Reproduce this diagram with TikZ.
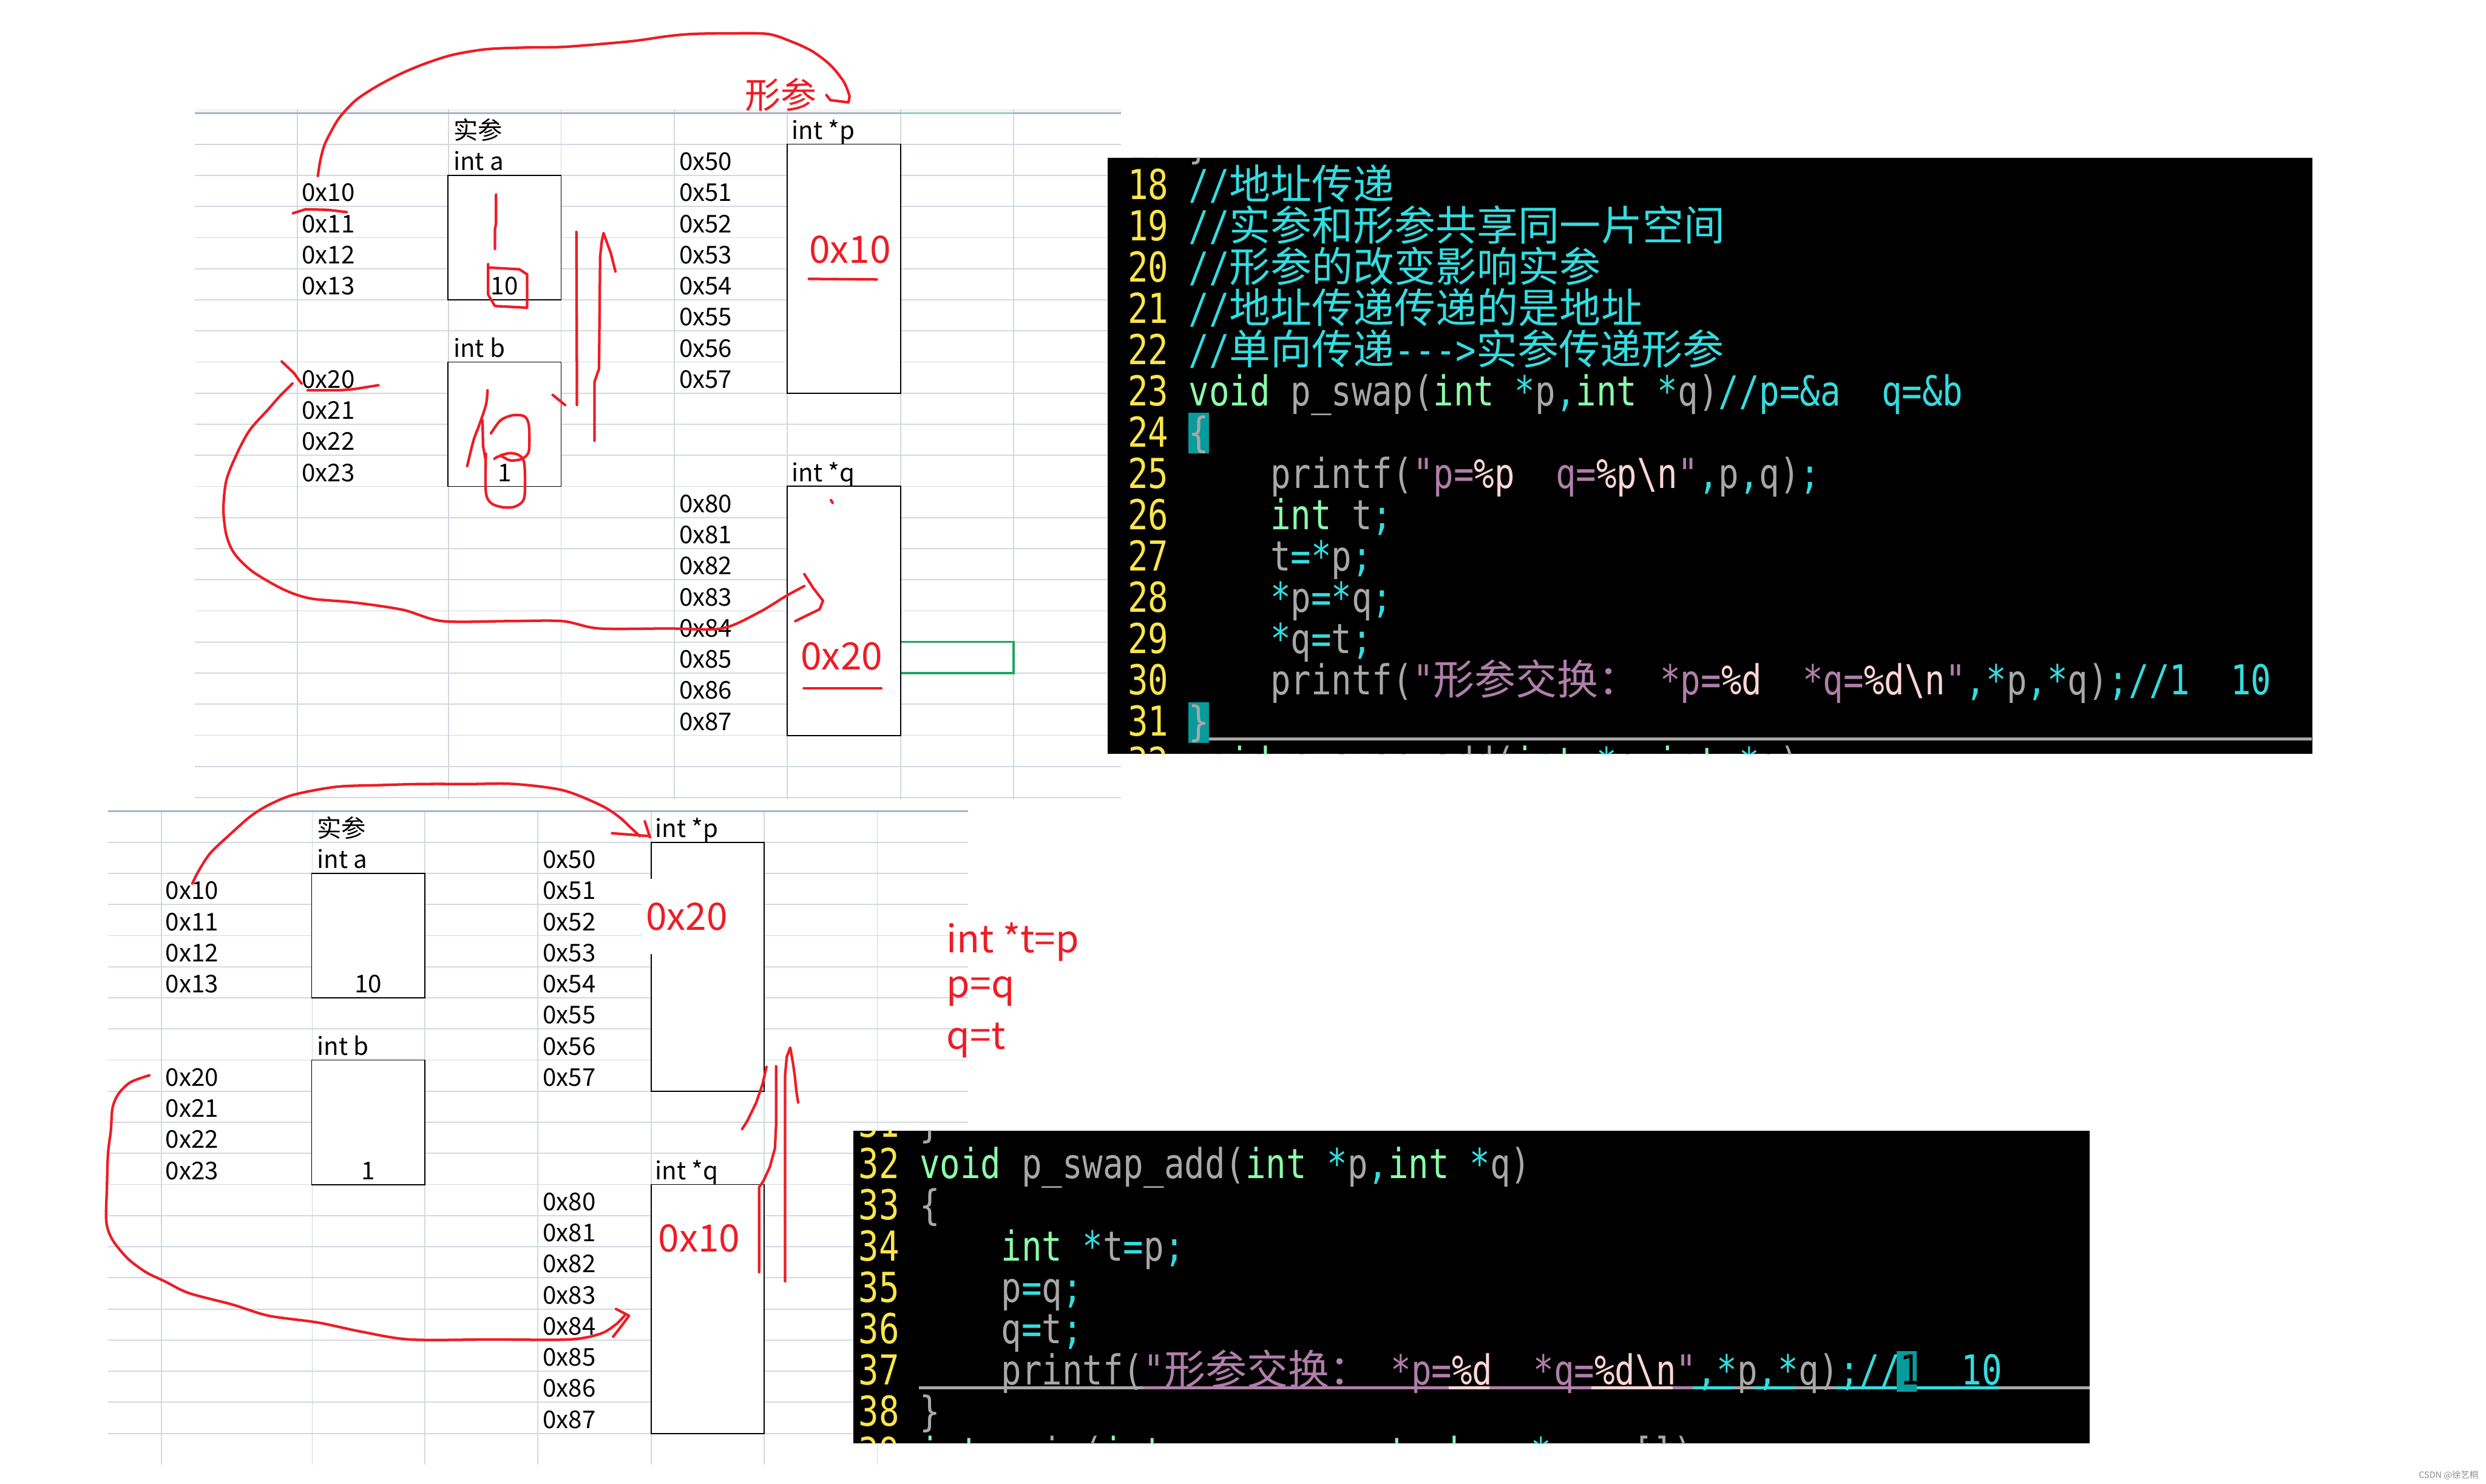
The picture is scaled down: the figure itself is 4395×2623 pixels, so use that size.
\documentclass[tikz,border=0pt]{standalone}
\usepackage{fontspec}
\setmainfont{Noto Sans CJK SC}
\newfontfamily\codefont[FakeStretch=0.82]{DejaVu Sans Mono}
\newfontfamily\codecjk{Noto Sans CJK SC}
\usepackage{tikz}
\usetikzlibrary{positioning}
\definecolor{penred}{HTML}{EE1C25}
\definecolor{gridgray}{HTML}{D3D8E0}
\definecolor{headgray}{HTML}{A9B3C6}
\definecolor{sheetband}{HTML}{F2F4F6}
\definecolor{cellgreen}{HTML}{21A366}
\definecolor{selteal}{HTML}{9CCFC0}
\definecolor{codeln}{HTML}{FAE54B}
\definecolor{codecm}{HTML}{33DDE0}
\definecolor{codekw}{HTML}{8CFFAA}
\definecolor{codetx}{HTML}{A8A8A8}
\definecolor{codest}{HTML}{B07FAA}
\definecolor{codefm}{HTML}{FFD6D6}
\definecolor{codeop}{HTML}{33DDE0}
\definecolor{cursorbg}{HTML}{089B9B}
\newcommand\sheetfont{\fontsize{12.3}{14}\selectfont}
\newcommand\codesize{\fontsize{20.75}{24}\selectfont}
\newcommand\cln[1]{\textcolor{codeln}{#1}}
\newcommand\ccm[1]{\textcolor{codecm}{#1}}
\newcommand\ckw[1]{\textcolor{codekw}{#1}}
\newcommand\ctx[1]{\textcolor{codetx}{#1}}
\newcommand\cst[1]{\textcolor{codest}{#1}}
\newcommand\cfm[1]{\textcolor{codefm}{#1}}
\newcommand\cop[1]{\textcolor{codeop}{#1}}
\newcommand\czh[1]{{\codecjk #1}}
\tikzset{
  gridline/.style={draw=gridgray, line width=0.55pt},
  headline/.style={draw=headgray, line width=0.75pt},
  membox/.style={rectangle, draw=black, fill=white, line width=0.55pt, minimum width=2cm, inner sep=0pt},
  cell/.style={anchor=base west, inner sep=0pt, font=\sheetfont},
  cellval/.style={anchor=base, inner sep=0pt, font=\sheetfont},
  redpen/.style={draw=penred, line width=1.3pt, line cap=round, line join=round},
  pentext/.style={text=penred, inner sep=0pt, font=\fontsize{19}{22}\selectfont},
  codepanel/.style={rectangle, fill=black, draw=none, inner sep=0pt},
  codeline/.style={anchor=base west, inner sep=0pt, font=\codesize\codefont},
}
% one memory sheet: addresses, names and the four cells
\newcommand\memlayout[1]{%
  \foreach \rw/\ad in {2/10,3/11,4/12,5/13,8/20,9/21,10/22,11/23}
    \node[cell] (#1addr\ad) at (533,{246+55*\rw}) {0x\ad};
  \foreach \rw/\ad in {1/50,2/51,3/52,4/53,5/54,6/55,7/56,8/57,12/80,13/81,14/82,15/83,16/84,17/85,18/86,19/87}
    \node[cell] (#1addr\ad) at (1200,{246+55*\rw}) {0x\ad};
  \node[cell] (#1head) at (801,246) {实参};
  \node[cell] (#1inta) at (801,301) {int a};
  \node[cell] (#1intb) at (801,631) {int b};
  \node[cell] (#1intp) at (1399,246) {int *p};
  \node[cell] (#1intq) at (1399,851) {int *q};
  \node[membox, minimum height=2.2cm] (#1boxa) at (892,420) {};
  \node[membox, minimum height=2.2cm] (#1boxb) at (892,750) {};
  \node[membox, minimum height=4.4cm] (#1boxp) at (1492,475) {};
  \node[membox, minimum height=4.4cm] (#1boxq) at (1492,1080) {};
  \node[cellval] (#1vala) at (892,521) {10};
  \node[cellval] (#1valb) at (892,851) {1};
}

\begin{document}
\begin{tikzpicture}[x=0.01cm, y=-0.01cm]
  \useasboundingbox (0,0) rectangle (4395,2623);
  \fill[white] (0,0) rectangle (4395,2623);

  % upper sheet
  \fill[sheetband] (344,193) rectangle (1982,200);
  \foreach \k in {1,...,22} \draw[gridline] (344,{200+55*\k}) -- (1982,{200+55*\k});
  \foreach \c in {526,793,992,1192,1392,1592,1792} \draw[gridline] (\c,193) -- (\c,1413);
  \draw[headline] (344,200) -- (1982,200);
  \draw[selteal, line width=1pt] (1592,200) -- (1792,200);
  \draw[cellgreen, line width=1pt] (1592,1135) rectangle (1792,1190);
  \memlayout{t}

  % lower sheet
  \begin{scope}[shift={(-241,1234)}]
    \foreach \k in {1,...,20} \draw[gridline] (432,{200+55*\k}) -- (1952,{200+55*\k});
    \foreach \c in {526,793,992,1192,1392,1592,1792} \draw[gridline] (\c,200) -- (\c,1355);
    \draw[headline] (432,200) -- (1952,200);
    \memlayout{b}
  \end{scope}

  % pen notes, upper sheet
  \node[pentext, font=\fontsize{18}{20}\selectfont] (tform) at (1380,168) {形参};
  \node[pentext] (tpval) at (1503,441) {0x10};
  \node[pentext] (tqval) at (1488,1160) {0x20};
  \draw[redpen] (1430,493) -- (1550,494);
  \draw[redpen] (1421,1217) -- (1558,1217);
  \draw[redpen] plot[smooth] coordinates {(562,311) (566,285) (573,258) (584,235) (600,208) (628,178) (662,155) (705,132) (750,113) (800,97) (860,87) (930,84) (994,83) (1060,78) (1124,72) (1180,64) (1225,60) (1290,59) (1357,60) (1398,73) (1435,90) (1468,115) (1492,145) (1502,170)} -- (1500,181) -- (1468,177) -- (1461,168);
  \draw[redpen] (518,377) -- (540,370) -- (580,371) -- (613,375);
  \draw[redpen] (877,344) -- (877,395) -- (875,405) -- (875,440);
  \draw[redpen] (863,467) -- (863,521) -- (875,541) -- (932,544) -- (932,485) -- (918,476) -- (864,473);
  \draw[redpen] plot[smooth] coordinates {(862,690) (859,716) (847,752) (837,779) (826,824)};
  \draw[redpen] (853,743) -- (854,788) -- (858,811);
  \draw[redpen] plot[smooth] coordinates {(868,766) (885,743) (907,734) (927,736) (935,752) (935,797) (923,811) (902,814) (885,806) (874,811)};
  \draw[redpen] plot[smooth] coordinates {(885,805) (902,801) (918,805) (927,820) (927,879) (912,895) (891,897) (869,890) (859,870) (859,802)};
  \draw[redpen] (1019,410) -- (1020,716);
  \draw[redpen] (977,698) -- (999,716);
  \draw[redpen] (1051,779) -- (1051,675) -- (1059,652) -- (1061,453) -- (1064,426) -- (1067,412) -- (1072,426) -- (1080,448) -- (1088,480);
  \draw[redpen] (1469,884) -- (1472,889);
  \draw[redpen] (498,639) -- (520,660) -- (533,678);
  \draw[redpen] (544,690) -- (600,690) -- (625,688) -- (669,681);
  \draw[redpen] plot[smooth] coordinates {(517,678) (495,700) (473,725) (441,761) (417,806) (400,850) (395,900) (400,945) (414,978) (446,1010) (501,1042) (549,1058) (625,1065) (712,1078) (782,1098) (900,1098) (994,1098) (1059,1111) (1180,1111) (1276,1111) (1341,1083) (1389,1054) (1422,1036)};
  \draw[redpen] (1422,1015) -- (1438,1040) -- (1455,1062) -- (1449,1077) -- (1406,1098);

  % pen notes, lower sheet
  \node[pentext, fill=white, minimum width=1.6cm, minimum height=1.33cm] (bpval) at (1214,1620) {0x20};
  \node[pentext] (bqval) at (1236,2189) {0x10};
  \node[pentext, anchor=west] (bstep1) at (1673,1665) {int *t=p};
  \node[pentext, anchor=west] (bstep2) at (1673,1752) {p=q};
  \node[pentext, anchor=west] (bstep3) at (1673,1839) {q=t};
  \draw[redpen] plot[smooth] coordinates {(340,1562) (351,1540) (372,1508) (410,1472) (443,1443) (475,1423) (519,1405) (594,1391) (670,1388) (746,1386) (830,1386) (909,1386) (995,1397) (1061,1423) (1093,1443) (1115,1463) (1131,1478)};
  \draw[redpen] (1082,1473) -- (1147,1478);
  \draw[redpen] (1140,1452) -- (1149,1480);
  \draw[redpen] plot[smooth] coordinates {(264,1901) (231,1913) (210,1933) (199,1958) (196,1998) (191,2039) (189,2100) (188,2160) (199,2192) (226,2225) (258,2249) (291,2265) (334,2286) (410,2306) (475,2326) (562,2338) (638,2354) (725,2368) (870,2368) (1006,2368) (1061,2358) (1088,2342) (1104,2326)};
  \draw[redpen] (1089,2314) -- (1112,2326) -- (1098,2345) -- (1084,2363);
  \draw[redpen] (1342,2249) -- (1342,2099) -- (1349,2089) -- (1361,2063) -- (1370,2030) -- (1372,1990) -- (1372,1885);
  \draw[redpen] (1355,1886) -- (1348,1917) -- (1337,1949) -- (1321,1982) -- (1312,1996);
  \draw[redpen] (1388,2265) -- (1388,1900) -- (1391,1868) -- (1397,1852) -- (1402,1880) -- (1405,1901) -- (1408,1930) -- (1411,1949);

  % upper code window
  \node[codepanel, minimum width=21.28cm, minimum height=10.53cm] (toppanel) at (3023,805.5) {};
  \begin{scope}
    \clip (toppanel.north west) rectangle (toppanel.south east);
    \fill[codetx] (2101,1304) rectangle (4087,1309);
    \fill[cursorbg] (2101,730) rectangle (2137,802);
    \fill[cursorbg] (2101,1241) rectangle (2137,1313);
    \node[codeline] (tl17) at (1993,279) {\cln{17}~\ctx{\}}};
    \foreach \lnum/\ltext in {18/{地址传递},19/{实参和形参共享同一片空间},20/{形参的改变影响实参},21/{地址传递传递的是地址}}
      \node[codeline] (tl\lnum) at (1993,{352+73*(\lnum-18)}) {\cln{\lnum}~\ccm{//\czh{\ltext}}};
    \node[codeline] (tl22) at (1993,644) {\cln{22}~\ccm{//\czh{单向传递}--->\czh{实参传递形参}}};
    \node[codeline] (tl23) at (1993,717) {\cln{23}~\ckw{void}~\ctx{p\_swap(}\ckw{int}~\cop{*}\ctx{p}\cop{,}\ckw{int}~\cop{*}\ctx{q)}\ccm{//p=\&a~~q=\&b}};
    \node[codeline] (tl24) at (1993,790) {\cln{24}~\ctx{\{}};
    \node[codeline] (tl25) at (1993,863) {\cln{25}~~~~~\ctx{printf(}\cst{"p=}\cfm{\%p}\cst{~~q=}\cfm{\%p\textbackslash n}\cst{"}\cop{,}\ctx{p}\cop{,}\ctx{q)}\cop{;}};
    \node[codeline] (tl26) at (1993,936) {\cln{26}~~~~~\ckw{int}~\ctx{t}\cop{;}};
    \node[codeline] (tl27) at (1993,1009) {\cln{27}~~~~~\ctx{t}\cop{=*}\ctx{p}\cop{;}};
    \node[codeline] (tl28) at (1993,1082) {\cln{28}~~~~~\cop{*}\ctx{p}\cop{=*}\ctx{q}\cop{;}};
    \node[codeline] (tl29) at (1993,1155) {\cln{29}~~~~~\cop{*}\ctx{q}\cop{=}\ctx{t}\cop{;}};
    \node[codeline] (tl30) at (1993,1228) {\cln{30}~~~~~\ctx{printf(}\cst{"\czh{形参交换：}~*p=}\cfm{\%d}\cst{~~*q=}\cfm{\%d\textbackslash n}\cst{"}\cop{,*}\ctx{p}\cop{,*}\ctx{q)}\cop{;}\ccm{//1~~10}};
    \node[codeline] (tl31) at (1993,1301) {\cln{31}~\ctx{\}}};
    \node[codeline] (tl32) at (1993,1374) {\cln{32}~\ckw{void}~\ctx{p\_swap\_add(}\ckw{int}~\cop{*}\ctx{p}\cop{,}\ckw{int}~\cop{*}\ctx{q)}};
  \end{scope}

  % lower code window
  \node[codepanel, minimum width=21.85cm, minimum height=5.52cm] (botpanel) at (2601.5,2275) {};
  \begin{scope}
    \clip (botpanel.north west) rectangle (botpanel.south east);
    \fill[codetx] (1625,2451) rectangle (3694,2456);
    \foreach \ua/\ub/\ucol in {11/26/codest,26/28/codefm,28/33/codest,33/37/codefm,37/38/codest,38/40/codeop,41/43/codeop,45/48/codecm,49/53/codecm}
      \fill[\ucol] ({1625+36*\ua},2451) rectangle ({1625+36*\ub},2456);
    \fill[cursorbg] (3353,2388) rectangle (3389,2460);
    \node[codeline] (bl31) at (1517,2010) {\cln{31}~\ctx{\}}};
    \node[codeline] (bl32) at (1517,2083) {\cln{32}~\ckw{void}~\ctx{p\_swap\_add(}\ckw{int}~\cop{*}\ctx{p}\cop{,}\ckw{int}~\cop{*}\ctx{q)}};
    \node[codeline] (bl33) at (1517,2156) {\cln{33}~\ctx{\{}};
    \node[codeline] (bl34) at (1517,2229) {\cln{34}~~~~~\ckw{int}~\cop{*}\ctx{t}\cop{=}\ctx{p}\cop{;}};
    \node[codeline] (bl35) at (1517,2302) {\cln{35}~~~~~\ctx{p}\cop{=}\ctx{q}\cop{;}};
    \node[codeline] (bl36) at (1517,2375) {\cln{36}~~~~~\ctx{q}\cop{=}\ctx{t}\cop{;}};
    \node[codeline] (bl37) at (1517,2448) {\cln{37}~~~~~\ctx{printf(}\cst{"\czh{形参交换：}~*p=}\cfm{\%d}\cst{~~*q=}\cfm{\%d\textbackslash n}\cst{"}\cop{,*}\ctx{p}\cop{,*}\ctx{q)}\cop{;}\ccm{//}\textcolor{black}{1}\ccm{~~10}};
    \node[codeline] (bl38) at (1517,2521) {\cln{38}~\ctx{\}}};
    \node[codeline] (bl39) at (1517,2594) {\cln{39}~\ckw{int}~\ctx{main(}\ckw{int}~\ctx{argc}\cop{,}~\ckw{const}~\ckw{char}~\cop{*}\ctx{argv[])}};
  \end{scope}

  \node[anchor=base east, inner sep=0pt, text=black!45, font=\fontsize{4.4}{5}\selectfont] (mark) at (4382,2613) {CSDN @徐艺桐};
\end{tikzpicture}
\end{document}
